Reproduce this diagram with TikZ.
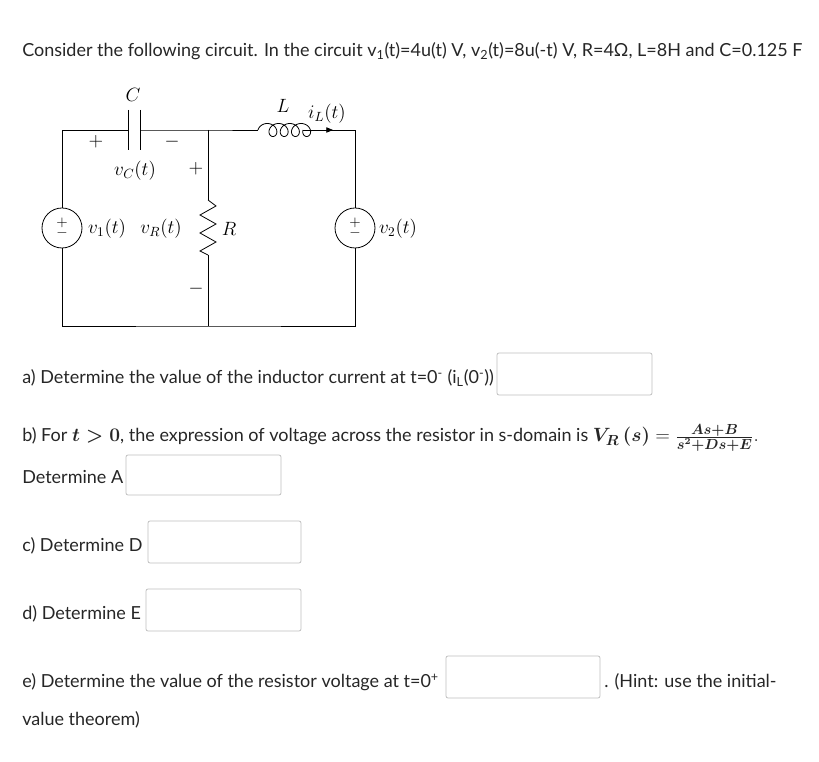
\documentclass[tikz,border=0pt]{standalone}
\usepackage{amsmath}
\usepackage{fontspec}
\setmainfont{Lato}
\usetikzlibrary{arrows.meta}
\begin{document}
\begin{tikzpicture}[x=0.75pt,y=-0.75pt,
  txt/.style={anchor=base west,inner sep=0,font=\fontsize{13.5}{16}\selectfont,text=black!85},
  lbl/.style={inner sep=0,font=\fontsize{14}{15}\selectfont},
  ansbox/.style={draw=black!25,rounded corners=1.5pt,line width=0.6pt},
  src/.style={draw,circle,minimum size=30pt,inner sep=0,line width=0.6pt,align=center,font=\fontsize{11}{10}\selectfont},
  wire/.style={line width=0.6pt}]
\useasboundingbox (0,0) rectangle (819,762);
\node[txt] (t1) at (22,57) {Consider the following circuit. In the circuit v\textsubscript{1}(t)=4u(t) V, v\textsubscript{2}(t)=8u(-t) V, R=4Ω, L=8H and C=0.125 F};
% circuit
\coordinate (tl) at (62,130); \coordinate (bl) at (62,326);
\coordinate (tm) at (208,130); \coordinate (bm) at (208,326);
\coordinate (tr) at (355,130); \coordinate (br) at (355,326);
\node[src] (s1) at (62,228) {$+$\\[-2pt]$-$};
\node[src] (s2) at (355,228) {$+$\\[-2pt]$-$};
\coordinate (c1) at (128,130); \coordinate (c2) at (140,130);
\coordinate (r1) at (208,200); \coordinate (r2) at (208,255);
\coordinate (l1) at (258,130); \coordinate (l2) at (303,130);
\draw[wire] (s1.north) -- (tl) -- (c1);
\draw[wire] (128,110) -- (128,150); \draw[wire] (140,110) -- (140,150);
\draw[wire] (c2) -- (tm) -- (l1);
\draw[wire] (l2) -- (tr) -- (s2.north);
\draw[wire,-{Triangle[length=5pt,width=4pt]}] (l2) -- (333,130);
\draw[wire] (s2.south) -- (br) -- (bm) -- (bl) -- (s1.south);
\draw[wire] (tm) -- (r1);
\draw[wire] (r1) -- ++(8,6) -- ++(-16,9) -- ++(16,9) -- ++(-16,9) -- ++(16,9) -- ++(-16,9) -- (r2);
\draw[wire] (r2) -- (bm);
\draw[wire] plot[smooth,samples=240,domain=0:1440,variable=\t] ({264.5+11.25*\t/360-6.5*cos(\t)},{130-6.5*sin(\t)});
\node[lbl] at (133,95) {$C$};
\node[lbl] at (96,142) {$+$};
\node[lbl] at (172,142) {$-$};
\node[lbl] at (135,171) {$v_C(t)$};
\node[lbl] at (196,169) {$+$};
\node[lbl] at (196,289) {$-$};
\node[lbl] at (107,229) {$v_1(t)$};
\node[lbl] at (161,229) {$v_R(t)$};
\node[lbl] at (229,229) {$R$};
\node[lbl] at (398,229) {$v_2(t)$};
\node[lbl] at (283,106) {$L$};
\node[lbl] at (327,114) {$i_L(t)$};
% questions
\node[txt] (qa) at (22,384) {a) Determine the value of the inductor current at t=0\textsuperscript{-} (i\textsubscript{L}(0\textsuperscript{-}))};
\draw[ansbox] (497,353) rectangle (652,395);
\node[txt] (qb) at (22,442) {b) For $\boldsymbol{t>0}$, the expression of voltage across the resistor in s-domain is {\fontsize{15}{16}\selectfont$\boldsymbol{V_R\left(s\right)}=\frac{\boldsymbol{As+B}}{\boldsymbol{s^2+Ds+E}}.$}};
\node[txt] (qA) at (22,484) {Determine A};
\draw[ansbox] (126,455) rectangle (281,495);
\node[txt] (qc) at (22,552) {c) Determine D};
\draw[ansbox] (148,521) rectangle (301,563);
\node[txt] (qd) at (22,620) {d) Determine E};
\draw[ansbox] (146,589) rectangle (301,631);
\node[txt] (qe) at (22,688) {e) Determine the value of the resistor voltage at t=0\textsuperscript{+}};
\draw[ansbox] (446,656) rectangle (600,698);
\node[txt] (qh) at (604,688) {. (Hint: use the initial-};
\node[txt] (qv) at (22,726) {value theorem)};
\end{tikzpicture}
\end{document}
